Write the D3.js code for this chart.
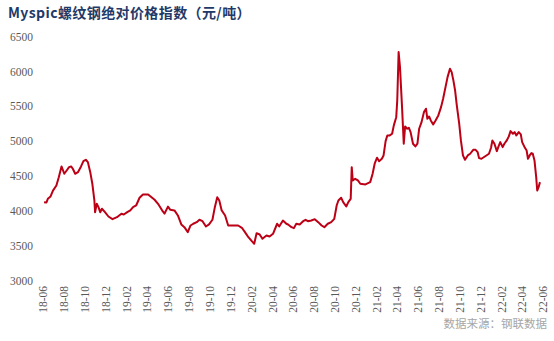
<!DOCTYPE html>
<html><head><meta charset="utf-8">
<script src="https://cdn.jsdelivr.net/npm/d3@7"></script>
<style>
html,body{margin:0;padding:0;background:#fff;}
svg{display:block;}
</style></head>
<body>
<svg id="chart" width="554" height="341"></svg>
<script>
const titleText = "Myspic螺纹钢绝对价格指数（元/吨）";
const sourceText = "数据来源：钢联数据";
const yTicks = [3000, 3500, 4000, 4500, 5000, 5500, 6000, 6500];
const xTickLabels = ["18-06","18-08","18-10","18-12","19-02","19-04","19-06","19-08","19-10","19-12","20-02","20-04","20-06","20-08","20-10","20-12","21-02","21-04","21-06","21-08","21-10","21-12","22-02","22-04","22-06"];
const dates = [
"2018-06-05","2018-06-12","2018-06-16","2018-06-24","2018-07-01","2018-07-11","2018-07-18","2018-07-26","2018-08-03","2018-08-10",
"2018-08-17","2018-08-23","2018-08-28","2018-09-04","2018-09-12","2018-09-21","2018-09-28","2018-10-05","2018-10-11","2018-10-18",
"2018-10-24","2018-10-30","2018-11-01","2018-11-06","2018-11-11","2018-11-16","2018-11-21","2018-11-30","2018-12-10","2018-12-22",
"2019-01-04","2019-01-17","2019-01-24","2019-02-03","2019-02-12","2019-02-20","2019-03-01","2019-03-11","2019-03-21","2019-04-05",
"2019-04-15","2019-04-24","2019-05-04","2019-05-09","2019-05-18","2019-05-23","2019-06-02","2019-06-09","2019-06-21","2019-07-01",
"2019-07-11","2019-07-20","2019-07-30","2019-08-07","2019-08-15","2019-08-25","2019-09-02","2019-09-11","2019-09-21","2019-09-30",
"2019-10-10","2019-10-17","2019-10-24","2019-10-30","2019-11-06","2019-11-16","2019-11-25","2019-12-09","2019-12-24","2020-01-04",
"2020-01-13","2020-01-23","2020-02-02","2020-02-09","2020-02-16","2020-02-25","2020-03-04","2020-03-16","2020-03-25","2020-04-04",
"2020-04-16","2020-04-22","2020-05-03","2020-05-13","2020-05-18","2020-05-28","2020-06-04","2020-06-11","2020-06-21","2020-07-01",
"2020-07-08","2020-07-15","2020-07-25","2020-08-04","2020-08-14","2020-08-24","2020-09-01","2020-09-11","2020-09-21","2020-09-30",
"2020-10-07","2020-10-12","2020-10-20","2020-10-26","2020-11-04","2020-11-10","2020-11-17","2020-11-20","2020-11-23","2020-11-30",
"2020-12-08","2020-12-15","2020-12-30","2021-01-13","2021-01-20","2021-01-26","2021-02-02","2021-02-08","2021-02-16","2021-02-21",
"2021-02-27","2021-03-04","2021-03-11","2021-03-18","2021-03-23","2021-03-30","2021-04-02","2021-04-06","2021-04-10","2021-04-16",
"2021-04-21","2021-04-25","2021-05-01","2021-05-06","2021-05-11","2021-05-18","2021-05-25","2021-05-31","2021-06-05","2021-06-12",
"2021-06-19","2021-06-25","2021-06-29","2021-07-04","2021-07-09","2021-07-16","2021-07-23","2021-07-31","2021-08-08","2021-08-14",
"2021-08-21","2021-08-27","2021-09-03","2021-09-08","2021-09-13","2021-09-18","2021-09-23","2021-09-30","2021-10-05","2021-10-11",
"2021-10-17","2021-10-25","2021-11-01","2021-11-10","2021-11-17","2021-11-23","2021-11-27","2021-12-04","2021-12-14","2021-12-26",
"2022-01-01","2022-01-05","2022-01-11","2022-01-18","2022-01-23","2022-01-28","2022-02-04","2022-02-09","2022-02-16","2022-02-22",
"2022-02-27","2022-03-06","2022-03-11","2022-03-16","2022-03-23","2022-03-29","2022-04-02","2022-04-08","2022-04-15","2022-04-19",
"2022-04-24","2022-04-29","2022-05-03","2022-05-08","2022-05-13","2022-05-16","2022-05-20","2022-05-24"];
const values = [
4124,4120,4172,4205,4290,4363,4482,4636,4531,4578,
4626,4636,4603,4531,4554,4636,4712,4732,4698,4554,
4388,4148,3980,4100,4052,3980,4029,3980,3918,3880,
3908,3957,3947,3980,4005,4052,4076,4187,4234,4234,
4195,4158,4100,4062,3990,3960,4060,4014,4005,3933,
3804,3765,3693,3789,3814,3837,3871,3851,3775,3804,
3871,4052,4195,4148,4005,3933,3789,3789,3789,3756,
3693,3621,3564,3527,3679,3660,3598,3646,3631,3670,
3814,3775,3861,3814,3804,3765,3751,3814,3804,3851,
3871,3851,3861,3880,3837,3789,3765,3814,3837,3885,
4076,4148,4187,4124,4062,4124,4172,4626,4435,4459,
4435,4388,4378,4411,4531,4675,4761,4712,4746,4794,
4999,5080,5081,5105,5225,5343,5583,6276,6061,5487,
4962,5210,5177,5191,5128,4962,4923,4962,5177,5272,
5415,5464,5320,5353,5296,5239,5296,5368,5487,5607,
5774,5917,6038,5989,5870,5727,5511,5249,5009,4794,
4732,4794,4818,4875,4875,4841,4755,4746,4779,4818,
4904,5009,4962,4856,4923,4985,4913,4962,5009,5067,
5143,5105,5128,5081,5128,5095,4985,4923,4866,4746,
4794,4827,4818,4722,4482,4291,4339,4411];

const parse = d3.timeParse("%Y-%m-%d");
const parseTick = d3.timeParse("%y-%m");
const data = dates.map((d, i) => ({date: parse(d), value: values[i]}));
const tickDates = xTickLabels.map(l => parseTick(l));

const svg = d3.select("#chart");
const x = d3.scaleTime().domain([tickDates[0], tickDates[tickDates.length - 1]]).range([42.7, 542.7]);
const y = d3.scaleLinear().domain([3000, 6500]).range([280.5, 36.5]);

// title
svg.append("text").attr("x", 8).attr("y", 18)
  .attr("font-family", "'Noto Sans CJK SC', sans-serif").attr("font-weight", "bold")
  .attr("font-size", 14).attr("letter-spacing", 0.4).attr("fill", "#1F3A68").text(titleText);

// y axis
const yAxis = svg.append("g").attr("transform", "translate(36,0)")
  .call(d3.axisLeft(y).tickValues(yTicks).tickSize(0).tickPadding(3).tickFormat(d3.format("d")));
yAxis.select(".domain").remove();
yAxis.selectAll("text").attr("font-family", "'Liberation Serif', serif").attr("font-size", 11.5).attr("fill", "#595959");

// x axis
const xAxis = svg.append("g").attr("transform", "translate(0,285)")
  .call(d3.axisBottom(x).tickValues(tickDates).tickSize(0).tickFormat((d, i) => xTickLabels[i]));
xAxis.select(".domain").remove();
xAxis.selectAll("text")
  .attr("transform", "rotate(-90)")
  .attr("text-anchor", "end")
  .attr("x", -1).attr("y", 0).attr("dy", "0.35em")
  .attr("font-family", "'Liberation Serif', serif").attr("font-size", 11.5).attr("fill", "#595959");

// line
const line = d3.line().x(d => x(d.date)).y(d => y(d.value));
svg.append("path").datum(data).attr("d", line)
  .attr("fill", "none").attr("stroke", "#BC0016").attr("stroke-width", 2).attr("stroke-linejoin", "round");

// source
svg.append("text").attr("x", 547).attr("y", 328).attr("text-anchor", "end")
  .attr("font-family", "'Noto Sans CJK SC', sans-serif").attr("font-size", 11.5)
  .attr("fill", "#A6A6A6").text(sourceText);
</script>
</body></html>
